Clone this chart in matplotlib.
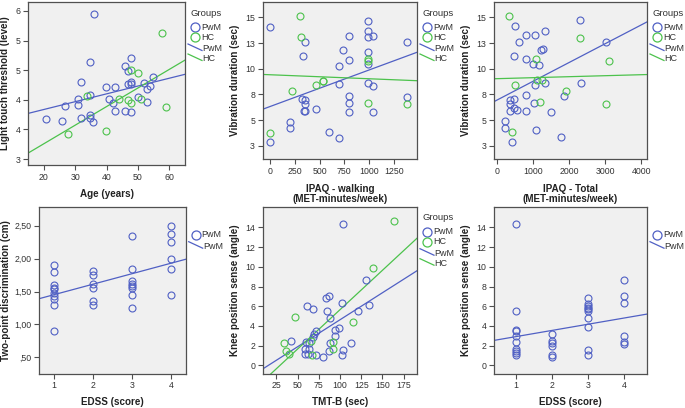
import matplotlib.pyplot as plt
import matplotlib.transforms as mtransforms
import numpy as np

plt.rcParams['font.family'] = ['Liberation Sans', 'DejaVu Sans']

BLUE = '#5060c4'
GREEN = '#4cc24c'
BG = '#f0f0f0'
EDGE = '#505050'

# ---- panel 1: age vs light touch threshold
age_pwm = [35.9, 34.8, 47.8, 45.8, 46.7, 31.8, 47.8, 47.8, 46.7, 54.9, 53.9, 52.8, 51.8,
           39.9, 42.8, 34.6, 30.8, 40.9, 42.0, 49.9, 52.8, 30.8, 26.7, 42.8, 45.8, 47.8,
           31.8, 34.6, 34.6, 35.8, 25.8, 20.8]
ltt_pwm = [5.44, 4.63, 4.71, 4.57, 4.49, 4.30, 4.30, 4.26, 4.26, 4.38, 4.24, 4.18, 4.28,
           4.21, 4.21, 4.08, 4.02, 4.02, 3.95, 4.05, 3.97, 3.92, 3.90, 3.81, 3.81, 3.79,
           3.70, 3.74, 3.69, 3.63, 3.65, 3.67]
age_hc = [57.7, 47.8, 49.9, 33.8, 43.9, 46.7, 47.8, 50.9, 59.0, 39.9, 27.8]
ltt_hc = [5.13, 4.50, 4.46, 4.06, 4.02, 3.99, 3.94, 4.02, 3.88, 3.48, 3.43]

# ---- panel 2: IPAQ walking vs vibration duration
walk_pwm = [3, 0, 202, 202, 327, 354, 354, 344, 354, 354, 337, 462, 597, 694, 694, 698, 734,
            795, 795, 795, 795, 795, 994, 994, 994, 994, 994, 994, 1045, 1045, 1045, 1389, 1389]
vibw_pwm = [14.1, 2.83, 4.78, 4.18, 7.02, 6.96, 6.52, 5.88, 5.88, 12.59, 11.25, 6.1, 3.87,
            10.3, 8.53, 3.27, 11.85, 10.88, 13.22, 7.36, 6.62, 5.78, 14.66, 13.66, 13.06,
            11.65, 10.44, 8.57, 13.22, 8.33, 5.78, 12.59, 7.29]
walk_hc = [300, 317, 219, 462, 532, 535, 3, 994, 994, 994, 1389]
vibw_hc = [15.17, 13.06, 7.83, 8.4, 8.77, 8.8, 3.77, 10.91, 10.71, 6.69, 6.52]

# ---- panel 3: IPAQ total vs vibration duration
ipaq_pwm = [500, 593, 787, 1037, 1333, 2287, 463, 787, 1000, 1204, 1278, 1167, 1037, 1333,
            2333, 787, 1843, 352, 463, 352, 463, 537, 352, 787, 1018, 1500, 204, 204, 1065,
            1759, 407, 3028]
vibt_pwm = [14.12, 12.6, 13.24, 13.24, 13.65, 14.7, 11.28, 10.9, 10.47, 11.79, 11.89, 10.34,
            8.38, 8.61, 8.58, 7.4, 7.3, 6.96, 7.03, 6.55, 6.2, 6.0, 5.88, 5.88, 6.66, 5.81,
            4.86, 4.19, 3.99, 3.34, 2.9, 12.6]
ipaq_hc = [315, 2287, 1074, 3102, 1102, 1241, 481, 1898, 1185, 3028, 407]
vibt_hc = [15.17, 13.04, 10.95, 10.74, 8.92, 8.85, 8.38, 7.87, 6.76, 6.55, 3.85]

# ---- panel 4: EDSS vs two-point discrimination
edss_2pd = [1] * 10 + [2] * 6 + [3] * 8 + [4] * 6
twopd = [1.90, 1.80, 1.60, 1.56, 1.54, 1.47, 1.43, 1.39, 1.30, 0.90,
         1.81, 1.75, 1.61, 1.55, 1.35, 1.30,
         2.35, 1.85, 1.66, 1.62, 1.59, 1.55, 1.44, 1.25,
         2.50, 2.37, 2.25, 2.00, 1.85, 1.45]

# ---- panel 5: TMT-B vs knee position sense
tmtb_pwm = [103.7, 131.1, 133.9, 121.0, 102.2, 83.4, 86.5, 61.4, 67.7, 84.5, 88.4, 99.0,
            93.6, 94.3, 71.6, 69.6, 67.7, 42.6, 59.9, 63.8, 88.4, 112.4, 59.1, 63.8, 86.5,
            103.0, 59.1, 61.9, 102.2, 79.5, 71.6]
kps_pwm = [14.34, 8.66, 6.16, 5.48, 6.29, 6.83, 7.03, 6.02, 5.68, 5.48, 4.80, 3.82, 3.58,
           3.01, 3.52, 3.15, 2.91, 2.47, 2.34, 2.23, 2.30, 2.23, 1.69, 1.69, 1.45, 1.52,
           1.12, 1.18, 1.01, 0.85, 1.01]
tmtb_hc = [163.3, 139.0, 115.0, 47.3, 33.6, 36.4, 40.3, 66.9, 92.0, 92.0, 65.7]
kps_hc = [14.68, 9.84, 4.35, 4.87, 2.23, 1.45, 1.15, 1.01, 2.33, 1.69, 2.47]

# ---- panel 6: EDSS vs knee position sense
edss_kps = [1] * 10 + [2] * 6 + [3] * 10 + [4] * 6
kps_edss = [14.35, 5.5, 3.6, 3.5, 2.95, 2.35, 1.65, 1.5, 1.25, 1.0,
            3.22, 2.43, 2.26, 1.99, 1.06, 0.86,
            6.88, 6.20, 6.03, 5.86, 5.68, 5.51, 4.83, 3.87, 1.58, 1.06,
            8.7, 7.0, 6.35, 3.0, 2.4, 2.2]

# fit lines: (intercept, slope)
fit1_pwm, fit1_hc = (3.572, 0.0132), (2.629, 0.0314)
fit2_pwm, fit2_hc = (6.313, 0.00356), (9.411, -0.000391)
fit3_pwm, fit3_hc = (6.96, 0.001828), (9.029, 0.0000965)
fit4_pwm = (1.29, 0.1605)
fit5_pwm, fit5_hc = (-0.858, 0.05484), (-2.345, 0.07994)
fit6_pwm = (2.292, 0.6268)

fig = plt.figure(figsize=(6.85, 4.08), dpi=100)
W, H = 685.0, 408.0


def make_ax(left, top, right, bottom):
    ax = fig.add_axes([left / W, 1 - bottom / H, (right - left) / W, (bottom - top) / H])
    ax.set_facecolor(BG)
    for s in ax.spines.values():
        s.set_color(EDGE)
        s.set_linewidth(0.9)
    ax.tick_params(length=3.5, width=0.8, color=EDGE, labelsize=6.3, pad=2, labelcolor='#333333')
    return ax


def scatter(ax, x, y, color):
    ax.plot(x, y, 'o', mfc='none', mec=color, ms=5, mew=0.8, zorder=3)


def fit_line(ax, fit, color):
    x = np.array(ax.get_xlim())
    ax.plot(x, fit[0] + fit[1] * x, color=color, lw=0.9, zorder=2)
    ax.set_xlim(x)


def side_legend(ax, entries, title=None):
    # entries: list of (kind, label, color); offsets in pixels from the axes top-right corner
    T = mtransforms.IdentityTransform() + mtransforms.ScaledTranslation(1, 1, ax.transAxes)
    y = -25
    if title:
        ax.text(5.5, -11, title, transform=T, ha='left', va='center', fontsize=6.8, color='#333333')
    else:
        y = -28
    for kind, lab, col in entries:
        if kind == 'marker':
            ax.plot([10], [y], 'o', mfc='none', mec=col, ms=6.5, mew=0.9, transform=T, clip_on=False)
            ax.text(16, y, lab, transform=T, ha='left', va='center', fontsize=6.5, color='#333333')
        else:
            ax.plot([3, 17], [y + 3, y - 3.5], color=col, lw=0.9, transform=T, clip_on=False)
            ax.text(17.5, y - 1.5, lab, transform=T, ha='left', va='center', fontsize=6.5, color='#333333')
        y -= 10


groups = [('marker', 'PwM', BLUE), ('marker', 'HC', GREEN), ('line', 'PwM', BLUE), ('line', 'HC', GREEN)]
pwm_only = [('marker', 'PwM', BLUE), ('line', 'PwM', BLUE)]
lab_kw = dict(fontsize=7.1, fontweight='bold', color='#222222')

# panel 1
ax = make_ax(28, 2, 185, 165)
ax.set_xlim(15, 65)
ax.set_ylim(2.9, 5.65)
scatter(ax, age_pwm, ltt_pwm, BLUE)
scatter(ax, age_hc, ltt_hc, GREEN)
fit_line(ax, fit1_pwm, BLUE)
fit_line(ax, fit1_hc, GREEN)
ax.set_xticks([20, 30, 40, 50, 60])
ax.set_yticks([3.0, 3.5, 4.0, 4.5, 5.0, 5.5], ['3', '4', '4', '5', '5', '6'])
ax.set_xlabel('Age (years)', labelpad=5, **lab_kw)
ax.set_ylabel('Light touch threshold (level)', labelpad=4, **lab_kw)
side_legend(ax, groups, 'Groups')

# panel 2
ax = make_ax(262.7, 2, 417, 159)
ax.set_xlim(-74, 1485)
ax.set_ylim(1.2, 16.5)
scatter(ax, walk_pwm, vibw_pwm, BLUE)
scatter(ax, walk_hc, vibw_hc, GREEN)
fit_line(ax, fit2_pwm, BLUE)
fit_line(ax, fit2_hc, GREEN)
ax.set_xticks([0, 250, 500, 750, 1000, 1250])
ax.set_yticks([2.5, 5, 7.5, 10, 12.5, 15], ['3', '5', '8', '10', '13', '15'])
ax.set_xlabel('IPAQ - walking\n(MET-minutes/week)', labelpad=6, linespacing=1.05, **lab_kw)
ax.set_ylabel('Vibration duration (sec)', labelpad=4, **lab_kw)
side_legend(ax, groups, 'Groups')

# panel 3
ax = make_ax(494, 2, 647, 159)
ax.set_xlim(-93, 4157)
ax.set_ylim(1.2, 16.5)
scatter(ax, ipaq_pwm, vibt_pwm, BLUE)
scatter(ax, ipaq_hc, vibt_hc, GREEN)
fit_line(ax, fit3_pwm, BLUE)
fit_line(ax, fit3_hc, GREEN)
ax.set_xticks([0, 1000, 2000, 3000, 4000])
ax.set_yticks([2.5, 5, 7.5, 10, 12.5, 15], ['3', '5', '8', '10', '13', '15'])
ax.set_xlabel('IPAQ - Total\n(MET-minutes/week)', labelpad=6, linespacing=1.05, **lab_kw)
ax.set_ylabel('Vibration duration (sec)', labelpad=4, **lab_kw)
side_legend(ax, groups, 'Groups')

# panel 4
ax = make_ax(39, 206.7, 185.7, 373.7)
ax.set_xlim(0.626, 4.365)
ax.set_ylim(0.25, 2.79)
scatter(ax, edss_2pd, twopd, BLUE)
fit_line(ax, fit4_pwm, BLUE)
ax.set_xticks([1, 2, 3, 4])
ax.set_yticks([0.5, 1.0, 1.5, 2.0, 2.5], [',50', '1,00', '1,50', '2,00', '2,50'])
ax.set_xlabel('EDSS (score)', labelpad=4.5, **lab_kw)
ax.set_ylabel('Two-point discrimination (cm)', labelpad=2, **lab_kw)
side_legend(ax, pwm_only)

# panel 5
ax = make_ax(262.7, 206.7, 417, 373.7)
ax.set_xlim(8.9, 190.7)
ax.set_ylim(-0.85, 16.1)
scatter(ax, tmtb_pwm, kps_pwm, BLUE)
scatter(ax, tmtb_hc, kps_hc, GREEN)
fit_line(ax, fit5_pwm, BLUE)
fit_line(ax, fit5_hc, GREEN)
ax.set_xticks([25, 50, 75, 100, 125, 150, 175])
ax.set_yticks(np.arange(0, 15, 2))
ax.set_xlabel('TMT-B (sec)', labelpad=4.5, **lab_kw)
ax.set_ylabel('Knee position sense (angle)', labelpad=4, **lab_kw)
side_legend(ax, groups, 'Groups')

# panel 6
ax = make_ax(494, 206.7, 647, 373.7)
ax.set_xlim(0.38, 4.64)
ax.set_ylim(-0.85, 16.1)
scatter(ax, edss_kps, kps_edss, BLUE)
fit_line(ax, fit6_pwm, BLUE)
ax.set_xticks([1, 2, 3, 4])
ax.set_yticks(np.arange(0, 15, 2))
ax.set_xlabel('EDSS (score)', labelpad=4.5, **lab_kw)
ax.set_ylabel('Knee position sense (angle)', labelpad=4, **lab_kw)
side_legend(ax, pwm_only)

fig.savefig('out.png', dpi=100, facecolor='white')
